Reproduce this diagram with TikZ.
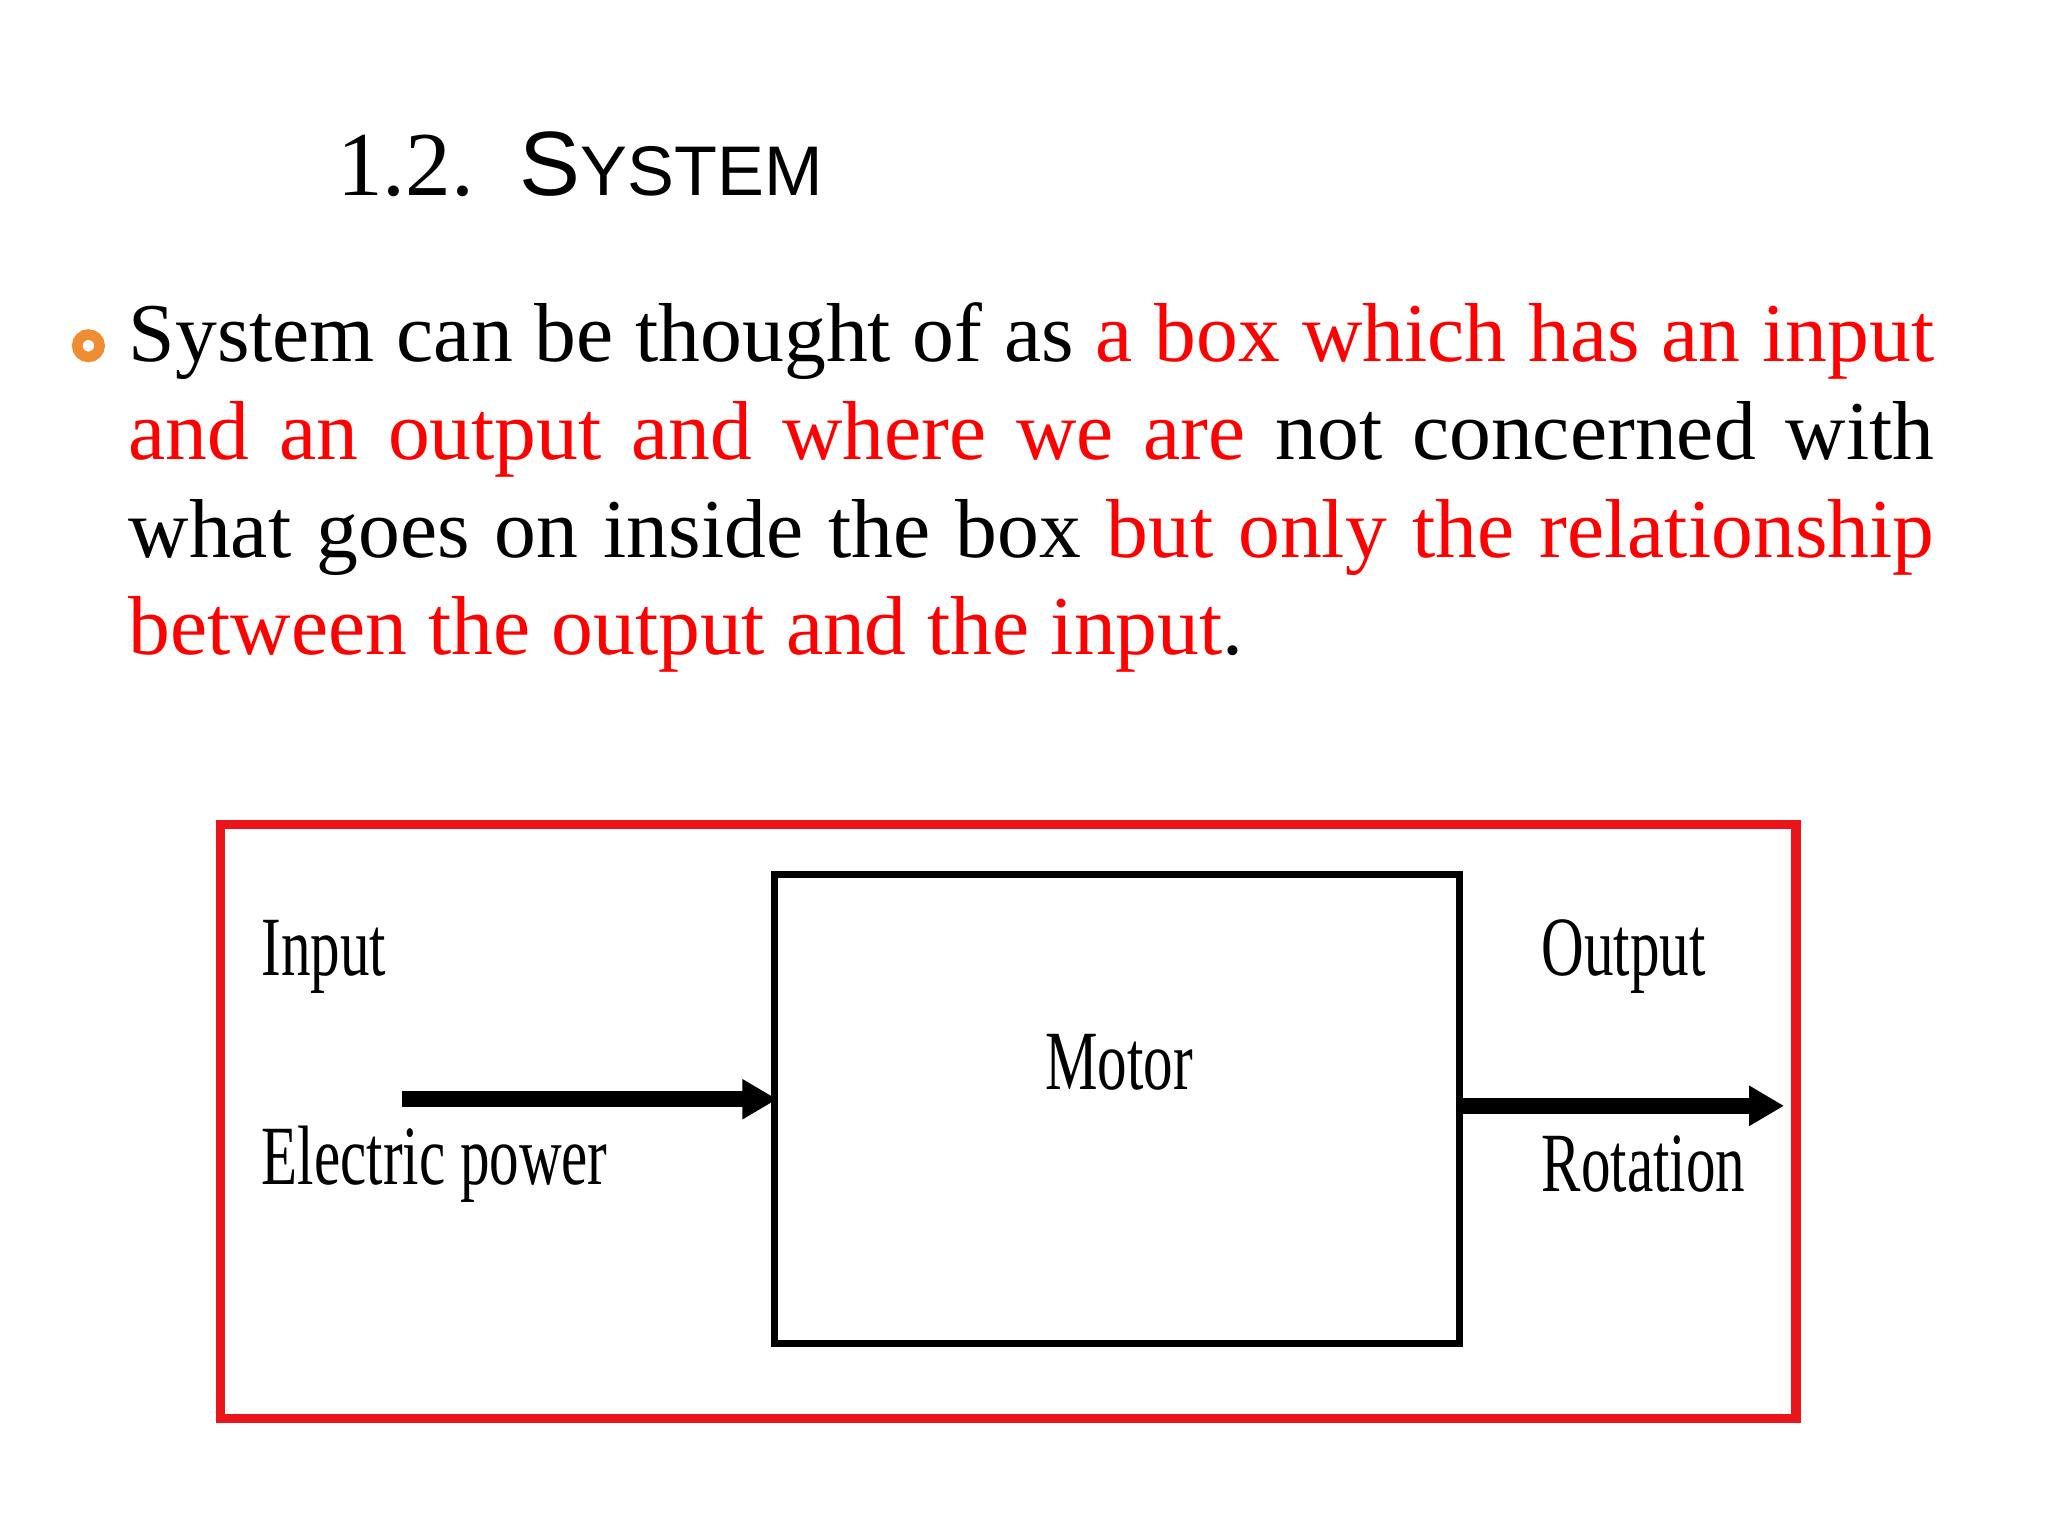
\documentclass[tikz,border=0pt]{standalone}
\usepackage{fontspec}
\setmainfont{Liberation Serif}
\newfontfamily\sansf{Liberation Sans}
\usetikzlibrary{positioning,arrows.meta}
\definecolor{slidered}{RGB}{235,20,25}
\definecolor{bulletorange}{RGB}{240,140,50}
\tikzset{
  lbl/.style={inner sep=0pt,font=\fontsize{24}{24}\selectfont,xscale=0.7},
  flow/.style={line width=4.5pt,-{Triangle[length=0.35cm,width=0.38cm]}}
}
\begin{document}
\begin{tikzpicture}[x=0.0132cm,y=-0.0132cm]
  \useasboundingbox (0,0) rectangle (1552,1164);
  %% title
  \node[anchor=base west,inner sep=0pt] (title) at (255,148)
    {\fontsize{26}{26}\selectfont 1.2.\ \ {\sansf S\fontsize{20}{20}\selectfont YSTEM}};
  %% bullet and text
  \draw[bulletorange,line width=3pt] (67,262) circle (8.5);
  \node[anchor=north west,inner sep=0pt,text width=18.06cm,align=justify,
        font=\fontsize{23.8}{27.8}\selectfont] (para) at (97,229)
    {System can be thought of as \textcolor{red}{a box which has an input and an output and where we are} not concerned with what goes on inside the box \textcolor{red}{but only the relationship between the output and the input}.};
  %% diagram
  \draw[slidered,line width=2.6pt] (167,625) rectangle (1361,1075);
  \draw[line width=2pt] (587,663) rectangle (1106,1018);
  \node[lbl] (motor) at (848,805) {Motor};
  \node[lbl,anchor=west] (in) at (198,725) {Input};
  \node[lbl,anchor=west] (epower) at (198,882) {Electric power};
  \node[lbl,anchor=west] (out) at (1168,725) {Output};
  \node[lbl,anchor=west] (rot) at (1168,882) {Rotation};
  \coordinate (a) at (305,833);
  \coordinate (b) at (589,833);
  \coordinate (c) at (1106,838);
  \coordinate (d) at (1352,838);
  \draw[flow] (a) -- (b);
  \draw[flow] (c) -- (d);
\end{tikzpicture}
\end{document}
